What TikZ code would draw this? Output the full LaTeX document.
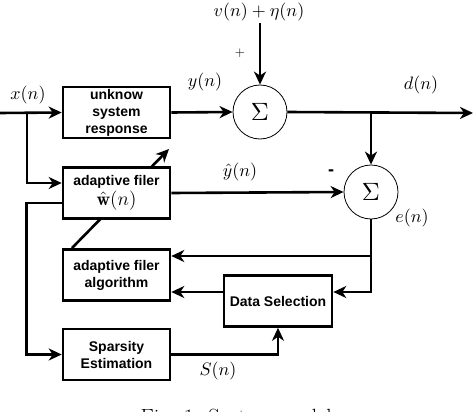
\documentclass[tikz,border=0pt]{standalone}
\usepackage{fontspec}
\setsansfont{Liberation Sans}
\usetikzlibrary{arrows.meta,calc}
\pgfdeclarelayer{bg}
\pgfsetlayers{bg,main}
\begin{document}
\begin{tikzpicture}[x=1pt,y=-1pt,
  arr/.style={line width=2.6pt,-{Stealth[length=13pt,width=12pt,inset=4pt]}},
  ln/.style={line width=2.6pt},
  blk/.style={draw,line width=2.6pt,fill=white,minimum width=107pt,minimum height=51pt,
    inner sep=0pt,align=center,font=\sffamily\bfseries\fontsize{14}{17}\selectfont},
  sumc/.style={draw,circle,line width=0.8pt,fill=white,minimum size=54pt,inner sep=0pt},
  lab/.style={inner sep=0pt,scale=1.8}]
\useasboundingbox (0,0) rectangle (474,412);
% blocks
\node[blk] (unk) at (116.5,112.5) {unknow\\system\\response};
\node[blk] (adf) at (116.5,193) {adaptive filer\\[1pt]\scalebox{1.35}{$\hat{\mathbf{w}}(n)$}};
\node[blk] (alg) at (116.5,275) {adaptive filer\\algorithm};
\node[blk,minimum width=108pt] (dsel) at (278,301) {Data Selection};
\node[blk] (spe) at (116.5,354.5) {Sparsity\\Estimation};
\node[sumc] (s1) at (260,112) {\scalebox{2.5}{$\Sigma$}};
\node[sumc] (s2) at (371,192) {\scalebox{2.5}{$\Sigma$}};
% labels
\node[lab] (lx) at (28,95) {$x(n)$};
\node[lab] (ly) at (205,82) {$y(n)$};
\node[lab] (lv) at (259,12) {$v(n)+\eta(n)$};
\node[inner sep=0pt,scale=1.3] (lp) at (240,53) {$+$};
\node[lab] (ld) at (421,85) {$d(n)$};
\node[lab] (lyh) at (240,172) {$\hat{y}(n)$};
\node[inner sep=0pt,font=\sffamily\bfseries\fontsize{18}{18}\selectfont] (lm) at (331,173) {-};
\node[lab] (le) at (412,218) {$e(n)$};
\node[lab] (ls) at (218,371) {$S(n)$};
% coordinates
\coordinate (xin) at (0,113);
\coordinate (br1) at (27,113);
\coordinate (vin) at (260,23);
\coordinate (dout) at (473,113);
\coordinate (br2) at (371,113);
\coordinate (ej) at (371,256);
\coordinate (dsr) at ($(dsel.east)+(0,-9)$);
\coordinate (dsl) at ($(dsel.west)+(0,-9)$);
\coordinate (adfin) at ($(adf.west)+(0,-10)$);
\coordinate (adfout) at ($(adf.west)+(0,10)$);
\coordinate (dstart) at (72,248);
\coordinate (dtip) at (169,149);
% connectors
\draw[arr] (xin) -- (unk.west);
\draw[arr] (br1) |- (adfin);
\draw[arr] (adfout) -- ++(-35,0) |- (spe.west);
\draw[arr] (unk.east) -- (s1.west);
\draw[arr] (vin) -- (s1.north);
\draw[arr] (s1.east) -- (dout);
\draw[arr] (br2) -- (s2.north);
\draw[arr] (adf.east) -- (s2.west);
\draw[arr] (s2.south) |- (dsr);
\draw[arr] (ej) -- (ej -| alg.east);
\draw[arr] (dsl) -- (dsl -| alg.east);
\draw[arr] (spe.east) -| (dsel.south);
\begin{pgfonlayer}{bg}
\draw[arr] (dstart) -- (dtip);
\end{pgfonlayer}
% caption (clipped by page)
\node[anchor=base,inner sep=0pt,font=\fontsize{22}{26}\selectfont] (cap) at (239,424) {Fig. 1: System model.};
\end{tikzpicture}
\end{document}
